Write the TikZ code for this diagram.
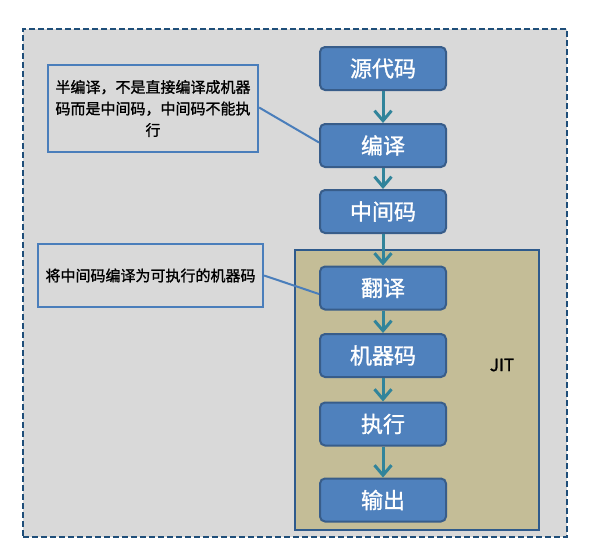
\documentclass[tikz,border=0pt]{standalone}
\usepackage{fontspec}
\setmainfont{Noto Sans CJK SC}[RawFeature={embolden=1.2}]
\usetikzlibrary{arrows.meta,calc}
\definecolor{bggray}{HTML}{D9D9D9}
\definecolor{outerblue}{HTML}{1F4E79}
\definecolor{boxblue}{HTML}{4F81BD}
\definecolor{boxedge}{HTML}{385D8A}
\definecolor{jittan}{HTML}{C4BD97}
\definecolor{jitedge}{HTML}{2E5A8C}
\definecolor{arrowteal}{HTML}{31849B}
\definecolor{calloutedge}{HTML}{4A7EBB}
\tikzset{
  outerbox/.style={draw=outerblue, fill=bggray, line width=2.3pt, dash pattern=on 6pt off 3pt, minimum width=544pt, minimum height=508pt, inner sep=0pt},
  jitbox/.style={draw=jitedge, fill=jittan, line width=2.2pt, minimum width=244pt, minimum height=280pt, inner sep=0pt},
  stepbox/.style={draw=boxedge, fill=boxblue, line width=2pt, rounded corners=5pt, minimum width=126pt, minimum height=43pt, inner sep=0pt, text=white, font=\fontsize{22}{26}\selectfont},
  callout/.style={draw=calloutedge, fill=bggray, line width=2.2pt, inner sep=0pt, align=center, font=\fontsize{15}{21.5}\selectfont},
  flow/.style={draw=arrowteal, line width=3pt, -{Straight Barb[length=10pt,width=17pt,line width=3pt]}},
  link/.style={draw=calloutedge, line width=2pt}
}
\begin{document}
\begin{tikzpicture}[x=1pt,y=-1pt]
\useasboundingbox[fill=white] (0,0) rectangle (599,557);
\node[outerbox] (outer) at (295,283) {};
\node[jitbox] (jit) at (417,390) {};
\node[font=\fontsize{17}{19}\selectfont] (jitlabel) at (502,365) {JIT};

\node[stepbox] (b1) at (383,68.5) {源代码};
\node[stepbox] (b2) at (383,145.5) {编译};
\node[stepbox] (b3) at (383,211.5) {中间码};
\node[stepbox] (b4) at (383,288) {翻译};
\node[stepbox] (b5) at (383,355.5) {机器码};
\node[stepbox] (b6) at (383,424) {执行};
\node[stepbox] (b7) at (383,500) {输出};

\node[callout, minimum width=210pt, minimum height=87pt] (c1) at (153,108.5)
  {半编译，不是直接编译成机器\\码而是中间码，中间码不能执\\行};
\node[callout, minimum width=225pt, minimum height=63pt] (c2) at (150.5,275.5)
  {将中间码编译为可执行的机器码};

\draw[link] ([yshift=1pt]c1.east) -- ([yshift=3pt]b2.west);
\draw[link] (c2.east) -- ([yshift=-6pt]b4.west);

\draw[flow] (b1) -- (b2);
\draw[flow] (b2) -- (b3);
\draw[flow] (b3) -- (b4);
\draw[flow] (b4) -- (b5);
\draw[flow] (b5) -- (b6);
\draw[flow] (b6) -- (b7);
\end{tikzpicture}
\end{document}
